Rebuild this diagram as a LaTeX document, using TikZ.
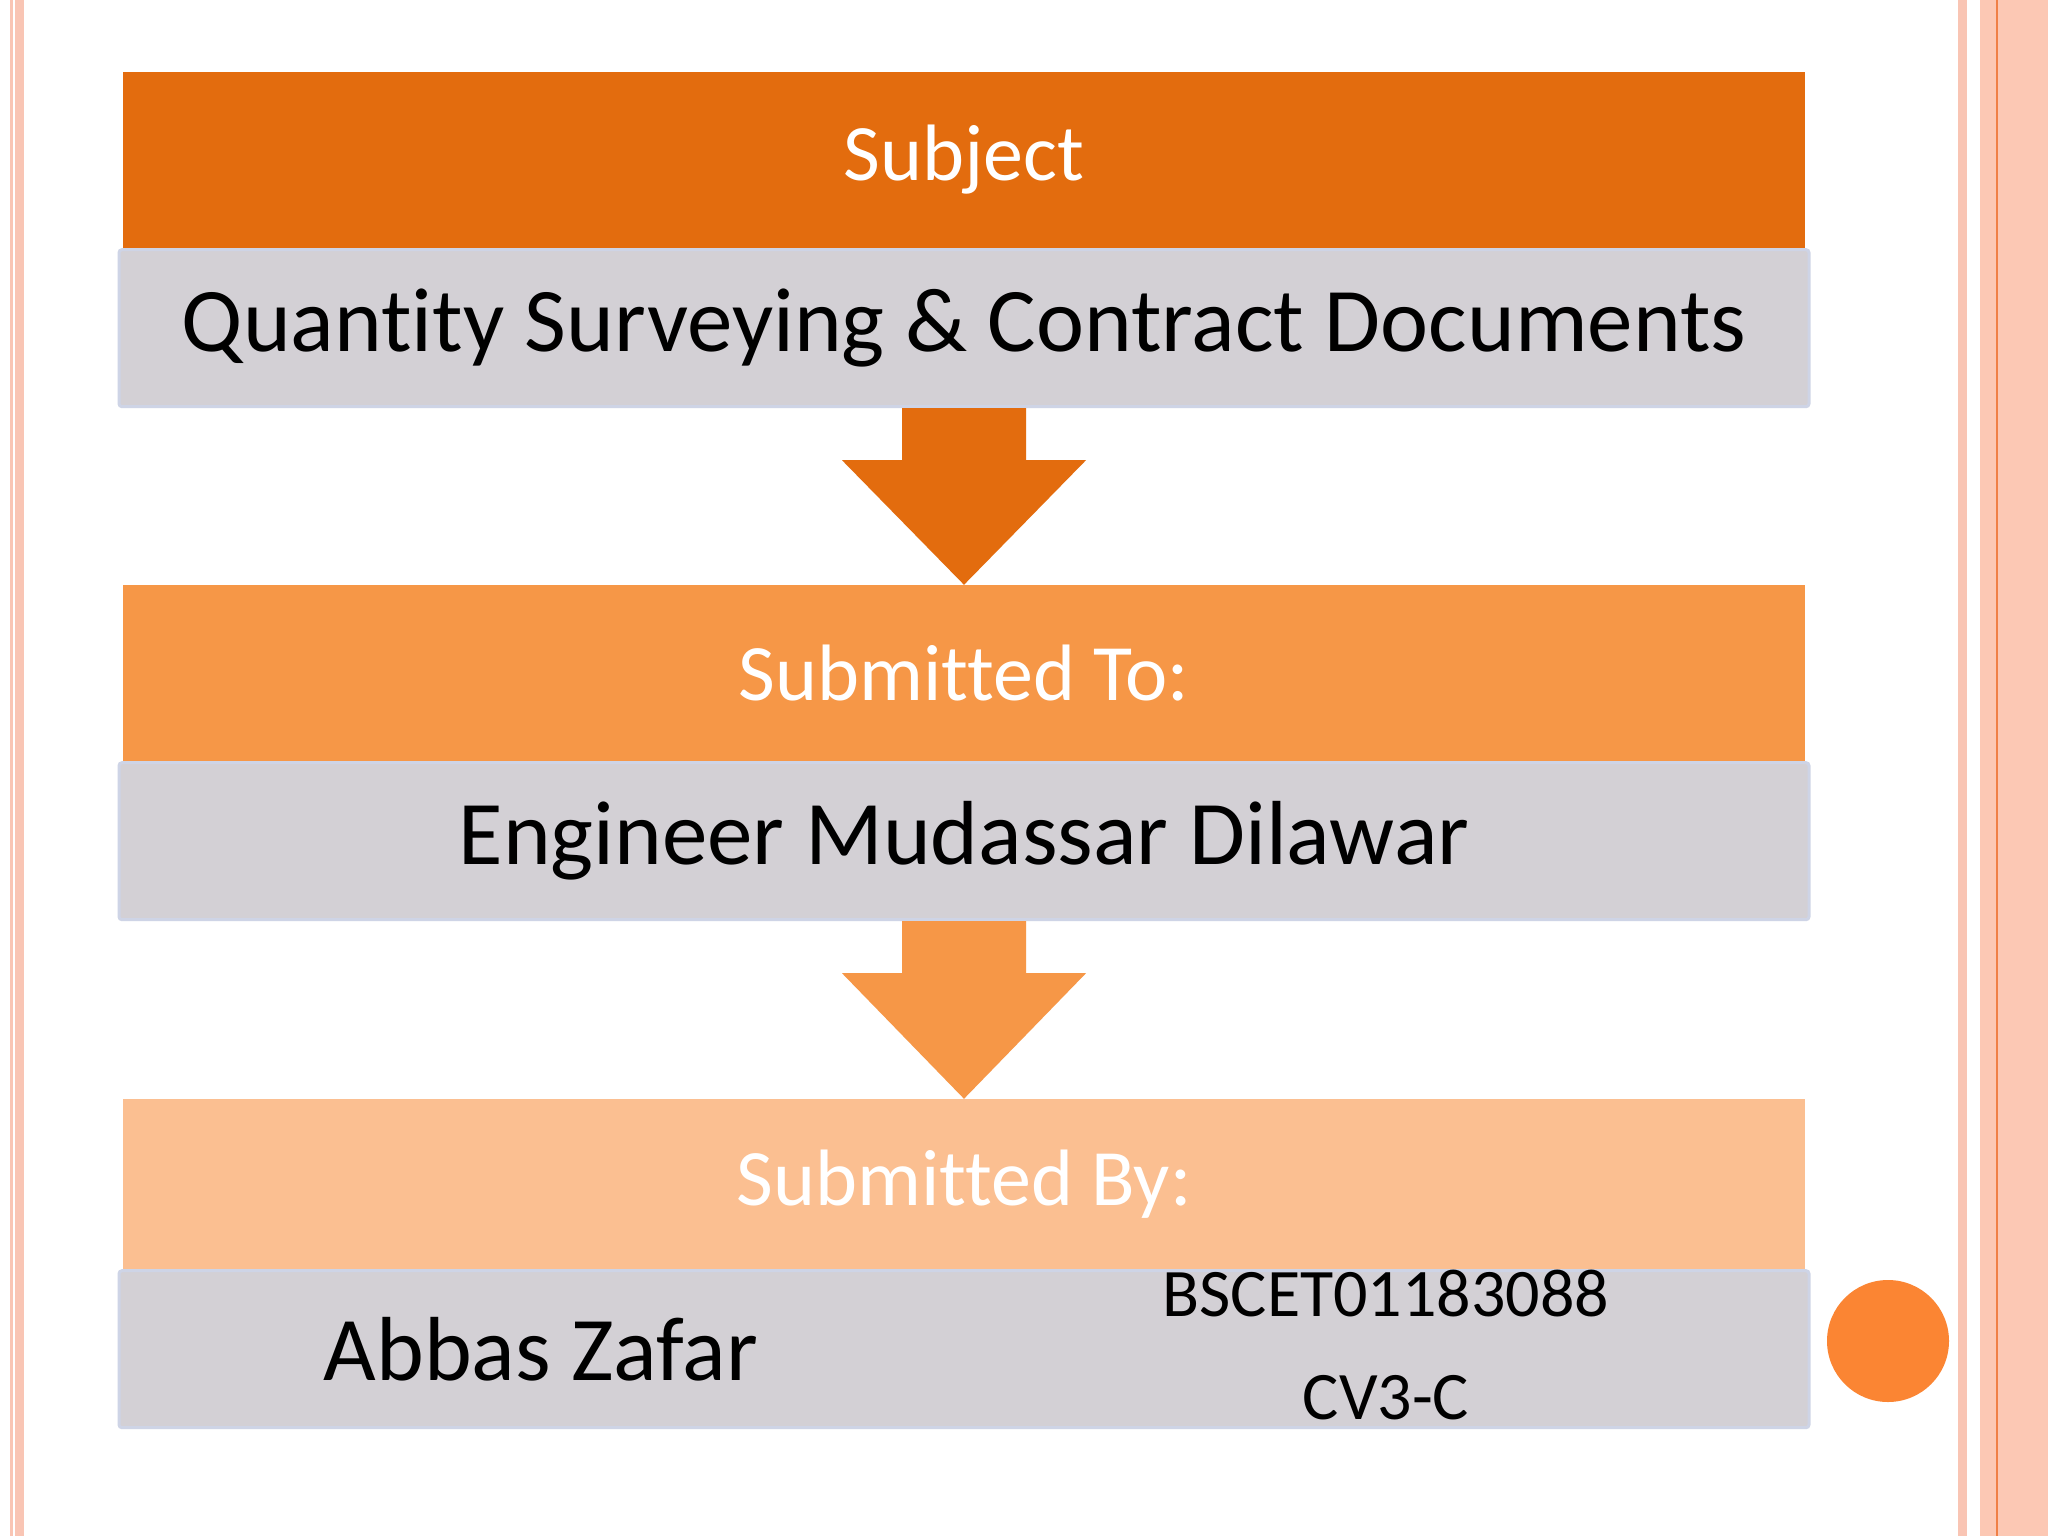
\documentclass[tikz,border=0pt]{standalone}
\usepackage{fontspec}
\setmainfont{Carlito}[Ligatures=NoCommon]
\usetikzlibrary{positioning}
\definecolor{orangeA}{RGB}{227,108,14}
\definecolor{orangeB}{RGB}{246,151,71}
\definecolor{orangeC}{RGB}{251,191,145}
\definecolor{greyfill}{RGB}{211,208,213}
\definecolor{greyline}{RGB}{206,212,230}
\definecolor{stripeA}{RGB}{249,197,180}
\definecolor{stripeB}{RGB}{252,200,180}
\definecolor{edgeline}{RGB}{240,128,70}
\definecolor{dotorange}{RGB}{251,133,51}

\begin{document}
\begin{tikzpicture}[x=1pt, y=-1pt,
    heading/.style={minimum width=1682pt, minimum height=176pt, inner sep=0pt, text=white, font=\fontsize{80}{96}\selectfont},
    detail/.style={draw=greyline, line width=3pt, fill=greyfill, rounded corners=3pt, minimum width=1690pt, minimum height=157pt, inner sep=0pt, font=\fontsize{91}{110}\selectfont},
    idtext/.style={inner sep=0pt, align=center, font=\fontsize{68}{103}\selectfont},
]
\useasboundingbox (0,0) rectangle (2048,1536);
\fill[white] (0,0) rectangle (2048,1536);
% side stripes
\fill[stripeA] (10,0) rectangle (13,1536);
\fill[stripeA] (15,0) rectangle (24,1536);
\fill[stripeA] (1958,0) rectangle (1967,1536);
\fill[stripeB] (1980,0) rectangle (2048,1536);
\fill[edgeline] (1996,0) rectangle (1998,1536);
% headings and details
\node[heading, fill=orangeA] (subj) at (964,160) {Subject};
\node[detail, below=0pt of subj] (qsc) {\raisebox{-3pt}{Quantity Surveying \& Contract Documents}};
\node[heading, fill=orangeB] (tow) at (964,673) {Submitted To:};
\node[detail, below=0pt of tow] (eng) {Engineer Mudassar Dilawar};
\node[heading, fill=orangeC, minimum height=170pt] (byn) at (964,1184) {Submitted By:};
\node[detail, below=0pt of byn] (byd) {};
\node[inner sep=0pt, font=\fontsize{91}{110}\selectfont] (name) at ([xshift=-423pt]byd.center) {Abbas Zafar};
\node[idtext] (regno) at ([xshift=422pt,yshift=4pt]byd.center) {BSCET01183088\\CV3-C};
% block arrows
\fill[orangeA] ([xshift=-62pt]qsc.south) -- ++(0,52) -- ++(-60,0) -- (tow.north)
    -- ([xshift=122pt,yshift=-52pt]qsc.south) -- ++(-60,0) -- ++(0,-52) -- cycle;
\fill[orangeB] ([xshift=-62pt]eng.south) -- ++(0,52) -- ++(-60,0) -- (byn.north)
    -- ([xshift=122pt,yshift=-52pt]eng.south) -- ++(-60,0) -- ++(0,-52) -- cycle;
\node[circle, fill=dotorange, minimum size=122pt, inner sep=0pt] (dot) at (1888,1341) {};
\end{tikzpicture}
\end{document}
